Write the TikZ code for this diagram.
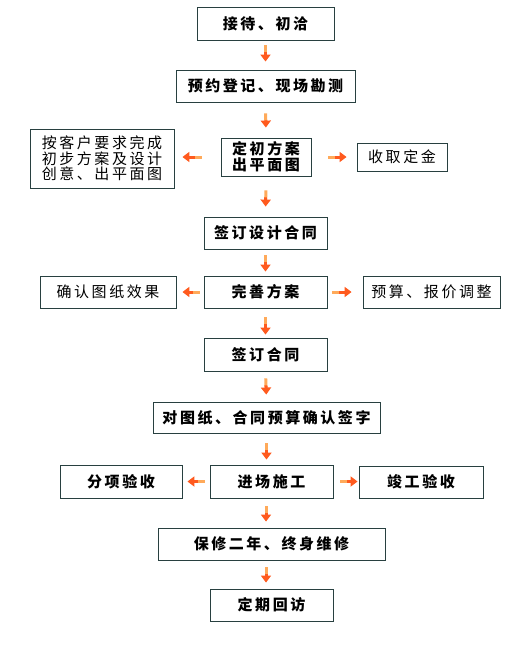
\documentclass[tikz,border=0pt]{standalone}
\usepackage{fontspec}
\setmainfont{Noto Sans CJK SC}[LetterSpace=17]
\usetikzlibrary{arrows.meta}
\definecolor{boxc}{RGB}{40,64,64}
\definecolor{arrl}{RGB}{255,170,90}
\definecolor{arrd}{RGB}{255,90,30}
\tikzset{
  mainbox/.style={draw=boxc, line width=0.9pt, inner sep=0pt, align=center,
    font=\fontsize{15}{16}\selectfont\bfseries},
  sidebox/.style={draw=boxc, line width=0.9pt, inner sep=0pt, align=center,
    font=\fontsize{15}{15.5}\selectfont},
  arrlight/.style={draw=arrl, line width=3pt},
  arrdark/.style={draw=arrd, line width=3pt, -{Triangle[length=7pt,width=10pt]}},
}
\newcommand{\myarrow}[4]{%
  \draw[arrlight, shorten <=#3pt, shorten >=#4pt+6pt] #1 -- #2;
  \draw[arrdark, shorten <=#3pt+7pt, shorten >=#4pt] #1 -- #2;}
\begin{document}
\begin{tikzpicture}[x=1pt,y=-1pt]
\useasboundingbox[fill=white] (0,0) rectangle (526,653);
\node[mainbox, minimum width=137pt, minimum height=33pt] (b1) at (265.5,23.5) {接待、初洽};
\node[mainbox, minimum width=179pt, minimum height=32pt] (b2) at (265.5,86) {预约登记、现场勘测};
\node[mainbox, minimum width=90pt, minimum height=38pt] (b3) at (266,157) {定初方案\\出平面图};
\node[sidebox, minimum width=144pt, minimum height=59pt] (b3l) at (102,158.5) {按客户要求完成\\初步方案及设计\\创意、出平面图};
\node[sidebox, minimum width=90pt, minimum height=28pt] (b3r) at (402,157) {收取定金};
\node[mainbox, minimum width=123pt, minimum height=32pt] (b4) at (265.5,233) {签订设计合同};
\node[mainbox, minimum width=123pt, minimum height=32pt] (b5) at (265.5,292) {完善方案};
\node[sidebox, minimum width=136pt, minimum height=32pt] (b5l) at (108,292) {确认图纸效果};
\node[sidebox, minimum width=137pt, minimum height=32pt] (b5r) at (431.5,292) {预算、报价调整};
\node[mainbox, minimum width=123pt, minimum height=33pt] (b6) at (265.5,354.5) {签订合同};
\node[mainbox, minimum width=227pt, minimum height=31pt] (b7) at (266.5,417.5) {对图纸、合同预算确认签字};
\node[mainbox, minimum width=123pt, minimum height=33pt] (b8) at (271.5,481.5) {进场施工};
\node[mainbox, minimum width=122pt, minimum height=33pt] (b8l) at (121,481.5) {分项验收};
\node[mainbox, minimum width=124pt, minimum height=32pt] (b8r) at (421,482) {竣工验收};
\node[mainbox, minimum width=227pt, minimum height=32pt] (b9) at (271.5,544) {保修二年、终身维修};
\node[mainbox, minimum width=123pt, minimum height=32pt] (b10) at (271.5,605) {定期回访};
% vertical arrows
\myarrow{(b1.south)}{(b2.north)}{5}{8}
\myarrow{(b2.south)}{(b3.north)}{11}{10}
\myarrow{(b3.south)}{(b4.north)}{14}{10}
\myarrow{(b4.south)}{(b5.north)}{6}{4}
\myarrow{(b5.south)}{(b6.north)}{9}{3}
\myarrow{(b6.south)}{(b7.north)}{7}{7}
\myarrow{(b7.south)}{(b7.south |- b8.north)}{10}{5}
\myarrow{([xshift=-5.5pt]b8.south)}{([xshift=-5.5pt]b9.north)}{8}{6}
\myarrow{([xshift=-5.5pt]b9.south)}{([xshift=-5.5pt]b10.north)}{7}{6}
% horizontal arrows
\myarrow{(b3.west)}{(b3.west -| b3l.east)}{19}{8}
\myarrow{(b3.east)}{(b3.east -| b3r.west)}{17}{10}
\myarrow{(b5.west)}{(b5l.east)}{4}{6}
\myarrow{(b5.east)}{(b5r.west)}{5}{11}
\myarrow{(b8.west)}{(b8l.east)}{5}{5}
\myarrow{(b8.east)}{(b8.east -| b8r.west)}{7}{1}
\end{tikzpicture}
\end{document}
